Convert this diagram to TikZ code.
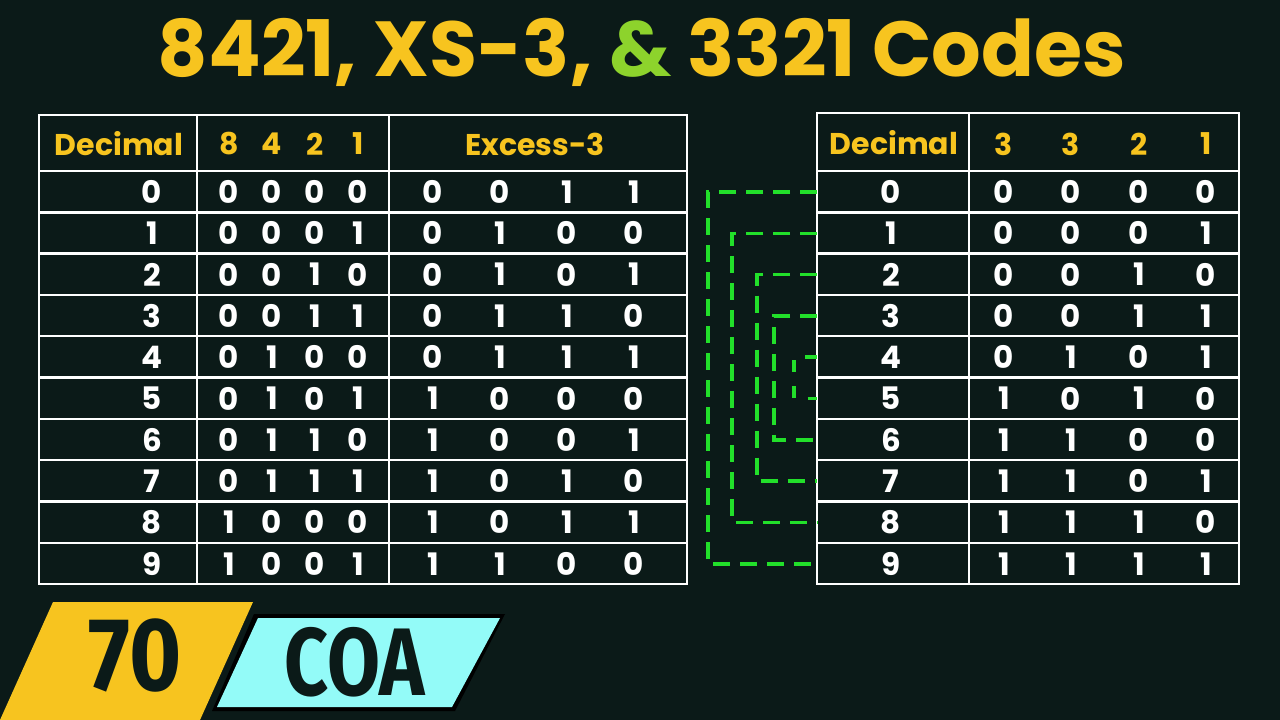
\documentclass[tikz,border=0pt]{standalone}
\usepackage{fontspec}
\setmainfont{Poppins}[UprightFont=* SemiBold,BoldFont=* Bold]
\newfontfamily\numfont{Fira Sans}[UprightFont=* Bold]
\definecolor{bg}{HTML}{0B1A18}
\definecolor{ylw}{HTML}{F7C41F}
\definecolor{grn}{HTML}{8DD32C}
\definecolor{dgrn}{HTML}{22E02A}
\definecolor{cyn}{HTML}{93FBF8}
\begin{document}
\begin{tikzpicture}[x=1pt,y=-1pt,
  grid/.style={draw=white,line width=2.4pt},
  hd/.style={text=ylw,font=\fontsize{30}{32}\selectfont\bfseries},
  dg/.style={text=white,font=\fontsize{31}{32}\selectfont\bfseries},
  conn/.style={draw=dgrn,line width=3.6pt,dash pattern=on 17pt off 10pt}]
\fill[bg] (0,0) rectangle (1280,720);
\useasboundingbox (0,0) rectangle (1280,720);
\node[font=\fontsize{78}{80}\selectfont\bfseries,text=ylw] (title) at (642,52) {8421, XS-3, {\color{grn}\&} 3321 Codes};
% left table
\def\rowh{41.3}
\draw[grid] (39,115) rectangle (687,584);
\foreach \x in {197,389} \draw[grid] (\x,115) -- (\x,584);
\foreach \i in {0,...,9} \draw[grid] (39,{171+\i*\rowh}) -- (687,{171+\i*\rowh});
\node[hd] (hl0) at (119,144) {Decimal};
\foreach \d/\x in {8/229,4/272,2/315,1/358} \node[hd] at (\x,144) {\d};
\node[hd] (hl1) at (535,144) {Excess-3};
% right table
\draw[grid] (817,113) rectangle (1239,584);
\draw[grid] (969,113) -- (969,584);
\foreach \i in {0,...,9} \draw[grid] (817,{171+\i*\rowh}) -- (1239,{171+\i*\rowh});
\node[hd] (hr0) at (894,143) {Decimal};
\foreach \d/\x in {3/1004,3/1071,2/1139,1/1206} \node[hd] at (\x,144) {\d};
% rows
\foreach \n/\a/\b/\c/\d/\e/\f/\g/\h/\p/\q/\r/\s in {
 0/0/0/0/0/0/0/1/1/0/0/0/0, 1/0/0/0/1/0/1/0/0/0/0/0/1,
 2/0/0/1/0/0/1/0/1/0/0/1/0, 3/0/0/1/1/0/1/1/0/0/0/1/1,
 4/0/1/0/0/0/1/1/1/0/1/0/1, 5/0/1/0/1/1/0/0/0/1/0/1/0,
 6/0/1/1/0/1/0/0/1/1/1/0/0, 7/0/1/1/1/1/0/1/0/1/1/0/1,
 8/1/0/0/0/1/0/1/1/1/1/1/0, 9/1/0/0/1/1/1/0/0/1/1/1/1}{
  \pgfmathsetmacro\yy{192+\n*\rowh}
  \node[dg] (ld\n) at (152,\yy) {\n};
  \node[dg] (rd\n) at (891,\yy) {\n};
  \coordinate (L\n) at (817,\yy);
  \node[dg] at (229,\yy) {\a}; \node[dg] at (272,\yy) {\b};
  \node[dg] at (315,\yy) {\c}; \node[dg] at (358,\yy) {\d};
  \node[dg] at (433,\yy) {\e}; \node[dg] at (500,\yy) {\f};
  \node[dg] at (567,\yy) {\g}; \node[dg] at (634,\yy) {\h};
  \node[dg] at (1004,\yy) {\p}; \node[dg] at (1071,\yy) {\q};
  \node[dg] at (1139,\yy) {\r}; \node[dg] at (1206,\yy) {\s};
}
% connectors
\foreach \u/\v/\xx in {0/9/708,1/8/732,2/7/757,3/6/774}
  \draw[conn] (L\u) -- (\xx,{192+\u*\rowh}) -- (\xx,{192+\v*\rowh}) -- (L\v);
\draw[conn,dash pattern=on 12pt off 14pt] (L4) -- (794,{192+4*\rowh}) -- (794,{192+5*\rowh}) -- (L5);
% badge
\fill[ylw] (53,602) -- (253,602) -- (200,720) -- (0,720) -- cycle;
\fill[black] (254,614) -- (505,614) -- (455,711) -- (212,711) -- cycle;
\fill[cyn] (258,618) -- (500,618) -- (452,707) -- (217,707) -- cycle;
\node[inner sep=0pt,font=\numfont\fontsize{104}{104}\selectfont,text=bg,xscale=0.86] (n70) at (135,655) {70};
\node[inner sep=0pt,font=\numfont\fontsize{96}{96}\selectfont,text=bg,xscale=0.8] (coa) at (355,662) {COA};
\end{tikzpicture}
\end{document}
